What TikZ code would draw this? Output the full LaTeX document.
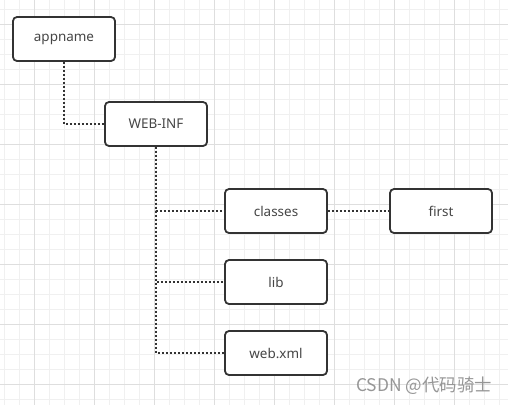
\documentclass[tikz,border=0pt]{standalone}
\usepackage{fontspec}
\setmainfont{Noto Sans}
\newfontfamily\cjkfont{Noto Sans CJK SC}
\usetikzlibrary{positioning}
\definecolor{gridminor}{RGB}{240,240,240}
\definecolor{gridmajor}{RGB}{222,222,222}
\definecolor{boxborder}{RGB}{51,51,51}
\definecolor{boxtext}{RGB}{70,70,70}
\definecolor{marktext}{RGB}{150,150,150}

\begin{document}
\begin{tikzpicture}[x=1bp,y=-1bp,
    dirbox/.style={draw=boxborder,line width=1.8bp,rounded corners=4bp,fill=white,
        minimum width=102bp,minimum height=44bp,inner sep=0pt,text=boxtext,
        font=\fontsize{13.5}{16}\selectfont},
    link/.style={draw=boxborder,line width=2bp,dash pattern=on 2bp off 2bp}]
    \useasboundingbox (0,0) rectangle (508,405);

    % Draw paper background
    \fill[white] (0,0) rectangle (508,405);

    % Draw grid
    \foreach \x in {4,19,...,508} {
        \draw[gridminor,line width=1bp] (\x,0) -- (\x,405);
    }
    \foreach \y in {9,24,...,405} {
        \draw[gridminor,line width=1bp] (0,\y) -- (508,\y);
    }
    \foreach \x in {34,94,...,508} {
        \draw[gridmajor,line width=1bp] (\x,0) -- (\x,405);
    }
    \foreach \y in {24,84,...,405} {
        \draw[gridmajor,line width=1bp] (0,\y) -- (508,\y);
    }

    % Draw directory boxes
    \node[dirbox] (appname) at (64,39) {appname};
    \node[dirbox] (webinf) at (156,124) {WEB-INF};
    \node[dirbox] (classes) at (276,211) {classes};
    \node[dirbox] (first) at (441,211) {first};
    \node[dirbox] (lib) at (276,282) {lib};
    \node[dirbox] (webxml) at (276,353) {web.xml};

    % Draw tree links
    \draw[link] (appname.south) |- (webinf.west);
    \draw[link] (webinf.south) |- (webxml.west);
    \draw[link] (webinf.south) |- (lib.west);
    \draw[link] (webinf.south) |- (classes.west);
    \draw[link] (classes.east) -- (first.west);

    % Watermark
    \node[text=marktext,font=\cjkfont\fontsize{17.5}{19}\selectfont] (mark) at (424,386) {CSDN @代码骑士};
\end{tikzpicture}
\end{document}
